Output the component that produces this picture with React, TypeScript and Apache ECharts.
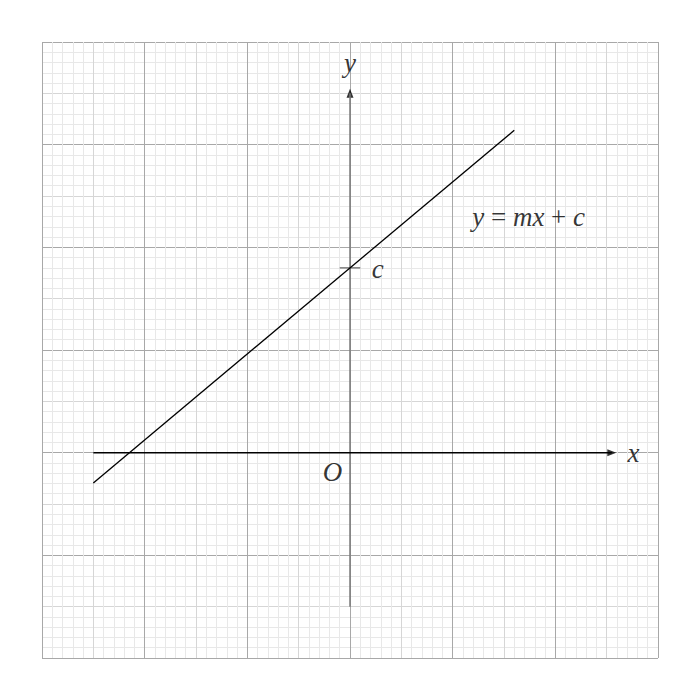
import {useEffect, useRef} from 'react';
import * as echarts from 'echarts';

// graph paper extent, in major squares
const xRange = [-3, 3];
const yRange = [-2, 4];

// axes of the sketch
const xAxisSegment = [[-2.5, 0], [2.55, 0]];
const yAxisSegment = [[0, -1.5], [0, 3.5]];

// the line y = mx + c
const lineEnds = [[-2.5, -0.295], [1.6, 3.14]];
const cValue = 1.8;
const cTick = [[-0.1, cValue], [0.1, cValue]];

// labels: [x, y, text]
const labels: [number, number, string][] = [
    [0, 3.8, '{i|y}'],
    [2.76, 0, '{i|x}'],
    [-0.17, -0.19, '{i|O}'],
    [0.27, 1.79, '{i|c}'],
    [1.74, 2.3, '{i|y} {n|=} {i|mx} {n|+} {i|c}'],
];

const serif = 'Liberation Serif';

const paper = (interval: number, color: string, range: number[]) => ({
    type: 'value',
    min: range[0],
    max: range[1],
    interval,
    axisLine: {show: false},
    axisTick: {show: false},
    axisLabel: {show: false},
    splitLine: {show: true, lineStyle: {color, width: 1}},
});

const App = () => {
    const chartRef = useRef<HTMLDivElement>(null);

    useEffect(() => {
        document.body.style.margin = '0';
        const chart = echarts.init(chartRef.current!, null, {renderer: 'svg'});

        const option = {
            animation: false,
            grid: {left: 42, right: 42, top: 42, bottom: 42},
            xAxis: [
                paper(0.1, '#e8e8e8', xRange),
                paper(0.5, '#d6d6d6', xRange),
                paper(1, '#a8a8a8', xRange),
            ],
            yAxis: [
                paper(0.1, '#e8e8e8', yRange),
                paper(0.5, '#d6d6d6', yRange),
                paper(1, '#a8a8a8', yRange),
            ],
            series: [
                {
                    type: 'line',
                    xAxisIndex: 2,
                    yAxisIndex: 2,
                    data: yAxisSegment,
                    symbol: 'none',
                    lineStyle: {color: '#7a7a7a', width: 1.5},
                },
                {
                    type: 'line',
                    xAxisIndex: 2,
                    yAxisIndex: 2,
                    data: cTick,
                    symbol: 'none',
                    lineStyle: {color: '#6a6a6a', width: 1.3},
                },
                {
                    type: 'line',
                    xAxisIndex: 2,
                    yAxisIndex: 2,
                    data: xAxisSegment,
                    symbol: 'none',
                    lineStyle: {color: '#000', width: 1.5},
                },
                {
                    type: 'line',
                    xAxisIndex: 2,
                    yAxisIndex: 2,
                    data: lineEnds,
                    symbol: 'none',
                    lineStyle: {color: '#000', width: 1.3},
                },
                {
                    // arrow heads
                    type: 'scatter',
                    xAxisIndex: 2,
                    yAxisIndex: 2,
                    symbol: 'triangle',
                    symbolSize: [7, 9],
                    itemStyle: {color: '#000'},
                    data: [
                        {value: xAxisSegment[1], symbolRotate: -90},
                        {value: yAxisSegment[1], symbolRotate: 0},
                    ],
                },
                {
                    type: 'scatter',
                    xAxisIndex: 2,
                    yAxisIndex: 2,
                    symbolSize: 1,
                    itemStyle: {color: 'transparent'},
                    data: labels.map(([x, y, t]) => ({value: [x, y], name: t})),
                    label: {
                        show: true,
                        position: 'inside',
                        fontFamily: serif,
                        fontSize: 27,
                        color: '#000',
                        formatter: (p: any) => p.name,
                        rich: {
                            i: {fontFamily: serif, fontStyle: 'italic', fontSize: 27, color: '#000'},
                            n: {fontFamily: serif, fontSize: 27, color: '#000'},
                        },
                    },
                },
            ],
        };

        chart.setOption(option as any);

        return () => {
            chart.dispose();
        };
    }, []);

    return <div ref={chartRef} style={{width: '700px', height: '700px'}} />;
};

export default App;
